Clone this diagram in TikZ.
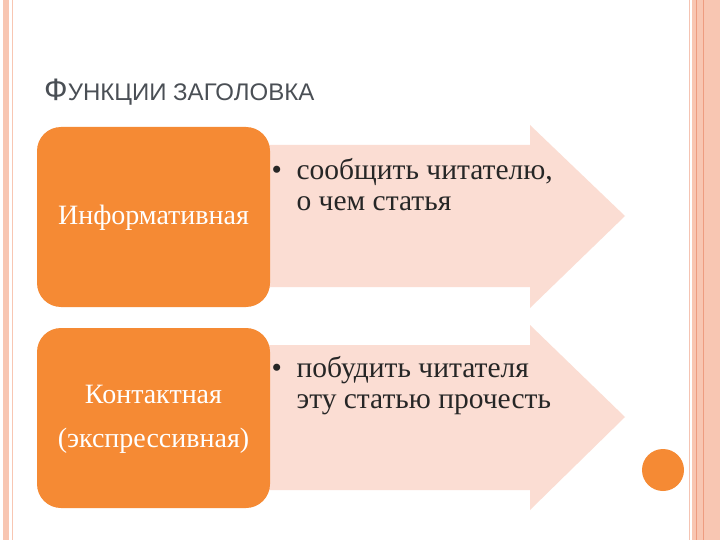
\documentclass[tikz,border=0pt]{standalone}
\usepackage{fontspec}
\setmainfont{Liberation Serif}
\newfontfamily\titlefont{Liberation Sans}
\definecolor{orng}{HTML}{F58A34}
\definecolor{pinkarrow}{HTML}{FBDDD3}
\definecolor{strip}{HTML}{F8C6B2}
\definecolor{stripline}{HTML}{EE9C80}
\definecolor{titlegray}{HTML}{4A4F55}
\begin{document}
\begin{tikzpicture}[x=1pt,y=-1pt,
  obox/.style={fill=orng,draw=none,rounded corners=24pt},
  otext/.style={text=white,font=\fontsize{28}{34}\selectfont,align=center},
  btext/.style={text=black!85,font=\fontsize{29.5}{31}\selectfont,align=left,anchor=north west},
  arr/.style={fill=pinkarrow,draw=none}]
\useasboundingbox (0,0) rectangle (720,540);
\fill[white] (0,0) rectangle (720,540);
% borders
\fill[strip] (3,0) rectangle (9,540);
\draw[strip,line width=0.8pt] (12,0) -- (12,540);
\draw[stripline!60,line width=0.8pt] (689,0) -- (689,540);
\fill[strip] (692,0) rectangle (720,540);
\draw[stripline,line width=0.8pt] (696,0) -- (696,540);
\draw[stripline,line width=0.8pt] (703,0) -- (703,540);
% title
\node[anchor=base west,text=titlegray,inner sep=0] (title) at (44,101)
  {\titlefont\fontsize{31}{36}\selectfont Ф\fontsize{24}{28}\selectfont УНКЦИИ ЗАГОЛОВКА};
% arrows
\fill[arr] (255,145) -- (530,145) -- (530,125) -- (625,216) -- (530,308) -- (530,287) -- (255,287) -- cycle;
\fill[arr] (255,345) -- (530,345) -- (530,325) -- (625,417) -- (530,510) -- (530,490) -- (255,490) -- cycle;
% boxes
\node[obox,minimum width=233pt,minimum height=180pt,inner sep=0] (b1) at (153.5,217) {};
\node[obox,minimum width=233pt,minimum height=180pt,inner sep=0] (b2) at (153.5,418) {};
\node[otext] (t1) at (153.5,218) {Информативная};
\node[otext] (t2) at (153.5,419) {Контактная\\[10pt](экспрессивная)};
\node[btext] (l1) at (268,155) {•\ \ сообщить читателю,\\\hphantom{•\ \ }о чем статья};
\node[btext] (l2) at (268,353) {•\ \ побудить читателя\\\hphantom{•\ \ }эту статью прочесть};
% circle
\fill[orng] (663,470) circle (21);
\end{tikzpicture}
\end{document}
